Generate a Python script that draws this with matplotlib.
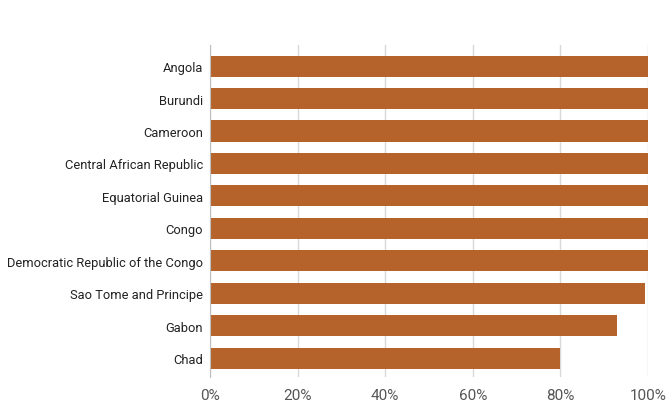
import matplotlib
matplotlib.use("Agg")
import matplotlib.pyplot as plt
from matplotlib.ticker import PercentFormatter

countries = ["Angola", "Burundi", "Cameroon", "Central African Republic",
             "Equatorial Guinea", "Congo", "Democratic Republic of the Congo",
             "Sao Tome and Principe", "Gabon", "Chad"]
values = [100, 100, 100, 100, 100, 100, 100, 99.3, 92.9, 80.0]
xticks = [0, 20, 40, 60, 80, 100]

plt.rcParams['font.family'] = ['Roboto', 'DejaVu Sans']

fig = plt.figure(figsize=(6.7, 4.06), dpi=100)
ax = fig.add_axes([210/670, 1-378/406, 438/670, (378-46)/406])

ypos = list(range(len(countries)))
ax.barh(ypos, values, height=0.65, color="#B5622B", zorder=3)
ax.set_yticks(ypos)
ax.set_yticklabels(countries, fontsize=9.3, color="#222222")
ax.set_ylim(len(countries) - 0.5 + 0.08, -0.5 - 0.15)
ax.set_xlim(0, 100)
ax.set_xticks(xticks)
ax.xaxis.set_major_formatter(PercentFormatter(decimals=0))
ax.tick_params(axis='x', labelsize=11, colors="#555555", length=0, pad=8)
ax.tick_params(axis='y', length=0, pad=5)
ax.grid(axis='x', color="#d9d9d9", linewidth=1, zorder=0)
for s in ["top", "right", "bottom"]:
    ax.spines[s].set_visible(False)
ax.spines["left"].set_color("#bfbfbf")
ax.spines["left"].set_zorder(4)

fig.savefig("out.png", dpi=100)
